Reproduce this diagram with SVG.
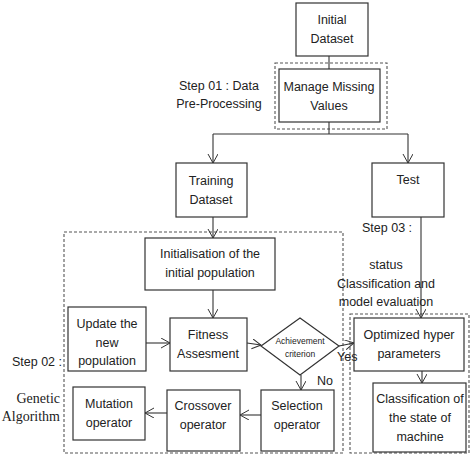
<svg xmlns="http://www.w3.org/2000/svg" width="474" height="459" viewBox="0 0 474 459">
<defs>
<marker id="ah" markerUnits="userSpaceOnUse" markerWidth="12" markerHeight="12" refX="9" refY="5" orient="auto">
<path d="M0,0 L9,5 L0,10" fill="none" stroke="#333" stroke-width="1"/>
</marker>
<style>
.box{fill:#fff;stroke:#333;stroke-width:1.2}
.dash{fill:none;stroke:#555;stroke-width:1.1;stroke-dasharray:3,2}
.t{font-family:"Liberation Sans",Arial,sans-serif;font-size:12.5px;fill:#222;text-anchor:middle}
.l{font-family:"Liberation Sans",Arial,sans-serif;font-size:12.5px;fill:#222}
.e{font-family:"Liberation Sans",Arial,sans-serif;font-size:12.5px;fill:#222;text-anchor:end}
.s{font-family:"Liberation Sans",Arial,sans-serif;font-size:8.5px;fill:#222;text-anchor:middle}
.serif{font-family:"Liberation Serif","Times New Roman",serif;font-size:14px;fill:#222;text-anchor:end}
.c{fill:none;stroke:#333;stroke-width:1.1}
</style>
</defs>
<rect width="474" height="459" fill="#fff"/>
<g id="frames">
<rect class="dash" x="275" y="63" width="112" height="66"/>
<rect class="dash" x="64" y="232" width="279" height="221"/>
<rect class="dash" x="350" y="314" width="119" height="139"/>
</g>
<g id="connectors">
<line class="c" x1="329" y1="56" x2="329" y2="69"/>
<line class="c" x1="329" y1="122" x2="329" y2="134"/>
<line class="c" x1="213" y1="134" x2="408" y2="134"/>
<line class="c" x1="213" y1="134" x2="213" y2="163" marker-end="url(#ah)"/>
<line class="c" x1="408" y1="134" x2="408" y2="163" marker-end="url(#ah)"/>
<line class="c" x1="213" y1="217" x2="213" y2="238" marker-end="url(#ah)"/>
<line class="c" x1="213" y1="290" x2="213" y2="318" marker-end="url(#ah)"/>
<line class="c" x1="146" y1="343" x2="170" y2="343" marker-end="url(#ah)"/>
<line class="c" x1="247" y1="343" x2="261" y2="345" marker-end="url(#ah)"/>
<line class="c" x1="339" y1="346" x2="354" y2="343" marker-end="url(#ah)"/>
<line class="c" x1="301" y1="375" x2="301" y2="390" marker-end="url(#ah)"/>
<line class="c" x1="261" y1="415" x2="240" y2="415" marker-end="url(#ah)"/>
<line class="c" x1="167" y1="413" x2="145" y2="413" marker-end="url(#ah)"/>
<line class="c" x1="421" y1="217" x2="421" y2="318" marker-end="url(#ah)"/>
<line class="c" x1="422" y1="371" x2="422" y2="383" marker-end="url(#ah)"/>
</g>
<g id="initial">
<rect class="box" x="296" y="3" width="72" height="53"/>
<text class="t" x="332" y="24">Initial</text>
<text class="t" x="332" y="43">Dataset</text>
</g>
<g id="manage">
<rect class="box" x="279" y="69" width="101" height="53"/>
<text class="t" x="329" y="91">Manage Missing</text>
<text class="t" x="329" y="110">Values</text>
</g>
<g id="training">
<rect class="box" x="176" y="163" width="71" height="54"/>
<text class="t" x="211" y="185">Training</text>
<text class="t" x="211" y="204">Dataset</text>
</g>
<g id="test">
<rect class="box" x="372" y="163" width="72" height="54"/>
<text class="t" x="408" y="184">Test</text>
</g>
<g id="init">
<rect class="box" x="145" y="238" width="130" height="52"/>
<text class="t" x="210" y="258">Initialisation of the</text>
<text class="t" x="210" y="277">initial population</text>
</g>
<g id="update">
<rect class="box" x="68" y="307" width="78" height="64"/>
<text class="t" x="107" y="328">Update the</text>
<text class="t" x="107" y="347">new</text>
<text class="t" x="107" y="365">population</text>
</g>
<g id="fitness">
<rect class="box" x="170" y="318" width="77" height="53"/>
<text class="t" x="208" y="339">Fitness</text>
<text class="t" x="208" y="358">Assesment</text>
</g>
<g id="criterion">
<polygon class="box" points="300,318 339,346 300,375 261,346"/>
<text class="s" x="300" y="344">Achievement</text>
<text class="s" x="300" y="357">criterion</text>
</g>
<g id="optimized">
<rect class="box" x="354" y="318" width="110" height="53"/>
<text class="t" x="409" y="339">Optimized hyper</text>
<text class="t" x="409" y="358">parameters</text>
</g>
<g id="classification">
<rect class="box" x="373" y="383" width="93" height="69"/>
<text class="t" x="420" y="403">Classification of</text>
<text class="t" x="420" y="422">the state of</text>
<text class="t" x="420" y="441">machine</text>
</g>
<g id="mutation">
<rect class="box" x="73" y="387" width="72" height="53"/>
<text class="t" x="109" y="408">Mutation</text>
<text class="t" x="109" y="427">operator</text>
</g>
<g id="crossover">
<rect class="box" x="167" y="390" width="73" height="61"/>
<text class="t" x="203" y="410">Crossover</text>
<text class="t" x="203" y="429">operator</text>
</g>
<g id="selection">
<rect class="box" x="261" y="390" width="73" height="61"/>
<text class="t" x="297" y="410">Selection</text>
<text class="t" x="297" y="429">operator</text>
</g>
<g id="labels">
<text class="t" x="219" y="90">Step 01 : Data</text>
<text class="t" x="219" y="108">Pre-Processing</text>
<text class="l" x="362" y="232">Step 03 :</text>
<text class="t" x="386" y="269">status</text>
<text class="t" x="386" y="288">Classification and</text>
<text class="t" x="386" y="306">model evaluation</text>
<text class="e" x="62" y="366">Step 02 :</text>
<text class="serif" x="60" y="403">Genetic</text>
<text class="serif" x="60" y="421">Algorithm</text>
<text class="l" x="337" y="361">Yes</text>
<text class="l" x="317" y="385">No</text>
</g>
</svg>
